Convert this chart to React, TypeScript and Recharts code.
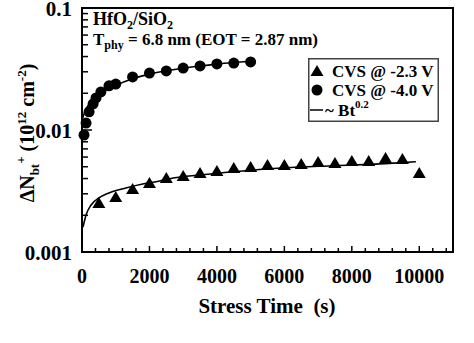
import React from 'react'
import { ComposedChart, Line, Scatter, XAxis, YAxis, ReferenceArea, Legend } from 'recharts'

// CVS @ -4.0 V (circles)
const hiTime = [60, 120, 210, 330, 415, 560, 800, 1000, 1500, 2000, 2500, 3000, 3500, 4000, 4500, 5000]
const hiVal = [0.0091, 0.0114, 0.0141, 0.0164, 0.0183, 0.0205, 0.023, 0.0238, 0.0272, 0.0293, 0.0305, 0.0322, 0.0335, 0.0348, 0.0354, 0.0361]

// CVS @ -2.3 V (triangles)
const loTime = [500, 1000, 1500, 2000, 2500, 3000, 3500, 4000, 4500, 5000, 5500, 6000, 6500, 7000, 7500, 8000, 8500, 9000, 9500, 10000]
const loVal = [0.00252, 0.00282, 0.00328, 0.00368, 0.00404, 0.0042, 0.00444, 0.00461, 0.00488, 0.00497, 0.00516, 0.00516, 0.00526, 0.00547, 0.00537, 0.00557, 0.00557, 0.00589, 0.00578, 0.00444]

// ~ Bt^0.2 curves
const hiFitTime = [20, 100, 200, 400, 600, 1000, 1500, 2000, 2500, 3000, 3500, 4000, 4500, 5000]
const hiFitVal = [0.0125, 0.0145, 0.0162, 0.0185, 0.0203, 0.0232, 0.0263, 0.0287, 0.0305, 0.0321, 0.0335, 0.0347, 0.0357, 0.0366]
const loFitTime = [30, 120, 270, 500, 800, 1300, 1800, 2300, 2700, 3500, 4500, 6000, 7500, 9000, 9900]
const loFitVal = [0.0016, 0.00201, 0.00243, 0.00277, 0.00305, 0.00335, 0.00361, 0.00382, 0.00404, 0.00428, 0.00455, 0.0049, 0.0051, 0.0053, 0.0055]

const xTicks = Array.from({ length: 28 }, (_, i) => i * 400)
const xLabels = [0, 2000, 4000, 6000, 8000, 10000]
const yTicks = [0.001, 0.002, 0.003, 0.004, 0.005, 0.006, 0.007, 0.008, 0.009, 0.01, 0.02, 0.03, 0.04, 0.05, 0.06, 0.07, 0.08, 0.09, 0.1]
const yLabels = ['0.001', '0.01', '0.1']

const pts = (ts: number[], vs: number[]) => ts.map((t, i) => ({ t, v: vs[i] }))

const txt: React.CSSProperties = { fontFamily: "'Liberation Serif', 'DejaVu Serif', serif", fontWeight: 700 }

const XTick = (props: any) => {
  const { x, y, payload } = props
  const major = xLabels.includes(payload.value)
  return (
    <g>
      <line x1={x} y1={y} x2={x} y2={y - (major ? 6 : 4)} stroke="#000" strokeWidth={1.5} />
      {major && (
        <text x={x} y={y + 31} textAnchor="middle" style={txt} fontSize={20} fill="#000">
          {payload.value}
        </text>
      )}
    </g>
  )
}

const YTick = (props: any) => {
  const { x, y, payload } = props
  const lbl = yLabels.find((s) => Math.abs(parseFloat(s) - payload.value) < 1e-9)
  return (
    <g>
      <line x1={x} y1={y} x2={x + (lbl ? 10 : 6)} y2={y} stroke="#000" strokeWidth={1.5} />
      {lbl && (
        <text x={x - 10} y={y + 7.5} textAnchor="end" style={txt} fontSize={21} fill="#000">
          {lbl}
        </text>
      )}
    </g>
  )
}

const Circle = (p: any) => <circle cx={p.cx} cy={p.cy} r={5.5} fill="#000" />
const Tri = (p: any) => (
  <polygon points={`${p.cx},${p.cy - 6} ${p.cx - 6.5},${p.cy + 5} ${p.cx + 6.5},${p.cy + 5}`} fill="#000" />
)

const LegendBox = () => (
  <svg width={131} height={64} style={{ display: 'block' }}>
    <rect x={0.75} y={0.75} width={129.5} height={62.5} fill="#fff" stroke="#444" strokeWidth={1.5} />
    <polygon points="9,7 2.5,18 15.5,18" fill="#000" />
    <text x={24} y={19} style={txt} fontSize={17}>CVS @ -2.3 V</text>
    <circle cx={9} cy={32} r={5.5} fill="#000" />
    <text x={24} y={38} style={txt} fontSize={17}>CVS @ -4.0 V</text>
    <line x1={2} y1={52} x2={15} y2={52} stroke="#000" strokeWidth={1.5} />
    <text x={17} y={58} style={txt} fontSize={17}>
      ~ Bt<tspan dy={-8} fontSize={11}>0.2</tspan>
    </text>
  </svg>
)

export default function App() {
  return (
    <div style={{ position: 'absolute', left: 0, top: 0, width: 474, height: 343, background: '#fff' }}>
      <ComposedChart width={474} height={343} margin={{ top: 8, right: 21, left: 0, bottom: 41 }}>
        <XAxis
          dataKey="t"
          type="number"
          domain={[0, 11000]}
          ticks={xTicks}
          interval={0}
          tick={<XTick />}
          tickLine={false}
          tickSize={0}
          tickMargin={0}
          axisLine={false}
          height={50}
        />
        <YAxis
          dataKey="v"
          type="number"
          scale="log"
          domain={[0.001, 0.1]}
          allowDataOverflow
          ticks={yTicks}
          interval={0}
          tick={<YTick />}
          tickLine={false}
          tickSize={0}
          tickMargin={0}
          axisLine={false}
          width={82}
        />
        <ReferenceArea x1={0} x2={11000} y1={0.001} y2={0.1} fill="none" stroke="#000" strokeWidth={2} ifOverflow="visible" />
        <Line data={pts(hiFitTime, hiFitVal)} dataKey="v" type="monotone" stroke="#000" strokeWidth={1.6} dot={false} isAnimationActive={false} />
        <Line data={pts(loFitTime, loFitVal)} dataKey="v" type="monotone" stroke="#000" strokeWidth={1.6} dot={false} isAnimationActive={false} />
        <Scatter data={pts(hiTime, hiVal)} dataKey="v" shape={<Circle />} isAnimationActive={false} />
        <Scatter data={pts(loTime, loVal)} dataKey="v" shape={<Tri />} isAnimationActive={false} />
        <Legend
          layout="vertical"
          align="center"
          verticalAlign="middle"
          content={<LegendBox />}
          wrapperStyle={{ left: 308, top: 58, width: 131, height: 64 }}
        />
      </ComposedChart>
      <svg width={474} height={343} style={{ position: 'absolute', left: 0, top: 0, pointerEvents: 'none' }}>
        <text x={93} y={25} style={txt} fontSize={18}>
          HfO<tspan dy={4} fontSize={12}>2</tspan>
          <tspan dy={-4}>/SiO</tspan>
          <tspan dy={4} fontSize={12}>2</tspan>
        </text>
        <text x={93} y={45} style={txt} fontSize={17}>
          T<tspan dy={4} fontSize={12}>phy</tspan>
          <tspan dy={-4}> = 6.8 nm (EOT = 2.87 nm)</tspan>
        </text>
        <text x={267} y={313} textAnchor="middle" style={txt} fontSize={21}>
          Stress Time{'\u00a0\u00a0'}(s)
        </text>
        <g transform="translate(34,133) rotate(-90)">
          <text x={0} y={0} textAnchor="middle" style={txt} fontSize={20}>
            ΔN<tspan dy={5} fontSize={13}>bt</tspan>
            <tspan dy={-14} fontSize={13}>+</tspan>
            <tspan dy={9}> (10</tspan>
            <tspan dy={-8} fontSize={13}>12</tspan>
            <tspan dy={8}> cm</tspan>
            <tspan dy={-8} fontSize={13}>-2</tspan>
            <tspan dy={8}>)</tspan>
          </text>
        </g>
      </svg>
    </div>
  )
}
